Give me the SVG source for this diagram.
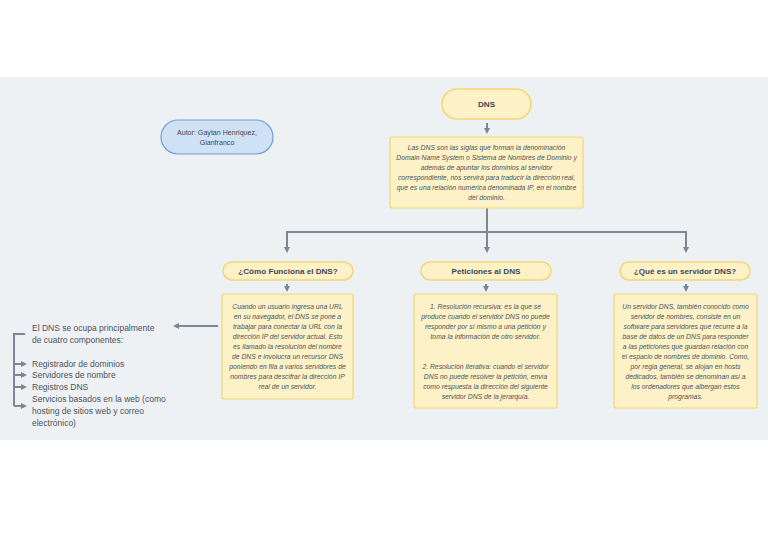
<svg xmlns="http://www.w3.org/2000/svg" width="768" height="543" viewBox="0 0 768 543">
<defs>
<style>
.pill{fill:#fdf1c7;stroke:#f2d675;stroke-width:1.5}
.box{fill:#fdf1c7;stroke:#f2d675;stroke-width:1.2}
.t{font-family:"Liberation Sans","DejaVu Sans",sans-serif;fill:#3f4650}
.h{font-size:8.1px;font-weight:bold;text-anchor:middle}
.b{font-size:6.8px;font-style:italic;text-anchor:middle;fill:#4a525c}
.l{font-size:8.5px;fill:#4a525c}
.c{fill:none;stroke:#7b8794;stroke-width:2}
</style>
<marker id="ah" viewBox="0 0 10 10" refX="5" refY="5" markerWidth="3" markerHeight="3" orient="auto-start-reverse" markerUnits="strokeWidth">
<path d="M0,0 L10,5 L0,10 z" fill="#7b8794"/>
</marker>
</defs>
<rect x="0" y="0" width="768" height="543" fill="#ffffff"/>
<rect x="0" y="77" width="768" height="363" fill="#eef1f4"/>

<g id="connectors">
<path class="c" d="M487,123 V131" marker-end="url(#ah)"/>
<path class="c" d="M487,208 V250" marker-end="url(#ah)"/>
<path class="c" d="M287,250 V232 H686 V250" marker-end="url(#ah)"/>
<path class="c" d="M287,232 V250" marker-end="url(#ah)"/>
<path class="c" d="M287,284 V289" marker-end="url(#ah)"/>
<path class="c" d="M486,284 V289" marker-end="url(#ah)"/>
<path class="c" d="M686,284 V289" marker-end="url(#ah)"/>
<path class="c" d="M218,326 H176" marker-end="url(#ah)"/>
<path class="c" d="M25,334 H14 V406"/>
<path class="c" d="M14,364 H24" marker-end="url(#ah)"/>
<path class="c" d="M14,375 H24" marker-end="url(#ah)"/>
<path class="c" d="M14,387 H24" marker-end="url(#ah)"/>
<path class="c" d="M14,406 H24" marker-end="url(#ah)"/>
</g>

<g id="dns">
<rect class="pill" x="442" y="89" width="89" height="30" rx="15"/>
<text class="t h" x="486.5" y="107">DNS</text>
</g>

<g id="author">
<rect x="161" y="120" width="112" height="34" rx="17" fill="#cfe2f5" stroke="#6b9fd6" stroke-width="1.2"/>
<text class="t" x="217" y="134.5" font-size="7.1" text-anchor="middle">Autor: Gaytan Henriquez,</text>
<text class="t" x="217" y="145" font-size="7.1" text-anchor="middle">Gianfranco</text>
</g>

<g id="descripcion">
<rect class="box" x="390" y="137" width="193" height="71" rx="2"/>
<text class="t b" x="486.5" y="150">Las DNS son las siglas que forman la denominación</text>
<text class="t b" x="486.5" y="160">Domain Name System o Sistema de Nombres de Dominio y</text>
<text class="t b" x="486.5" y="170">además de apuntar los dominios al servidor</text>
<text class="t b" x="486.5" y="180">correspondiente, nos servirá para traducir la dirección real,</text>
<text class="t b" x="486.5" y="190">que es una relación numérica denominada IP, en el nombre</text>
<text class="t b" x="486.5" y="200">del dominio.</text>
</g>

<g id="como">
<rect class="pill" x="223" y="262" width="130" height="18" rx="9"/>
<text class="t h" x="288" y="274">¿Cómo Funciona el DNS?</text>
</g>

<g id="peticiones">
<rect class="pill" x="421" y="262" width="130" height="18" rx="9"/>
<text class="t h" x="486" y="274">Peticiones al DNS</text>
</g>

<g id="que">
<rect class="pill" x="620" y="262" width="130" height="18" rx="9"/>
<text class="t h" x="685" y="274">¿Qué es un servidor DNS?</text>
</g>

<g id="como-texto">
<rect class="box" x="222" y="294" width="131" height="105" rx="2"/>
<text class="t b" x="287.5" y="309">Cuando un usuario ingresa una URL</text>
<text class="t b" x="287.5" y="319">en su navegador, el DNS se pone a</text>
<text class="t b" x="287.5" y="329">trabajar para conectar la URL con la</text>
<text class="t b" x="287.5" y="339">dirección IP del servidor actual. Esto</text>
<text class="t b" x="287.5" y="349">es llamado la resolución del nombre</text>
<text class="t b" x="287.5" y="359">de DNS e involucra un recursor DNS</text>
<text class="t b" x="287.5" y="369">poniendo en fila a varios servidores de</text>
<text class="t b" x="287.5" y="379">nombres para descifrar la dirección IP</text>
<text class="t b" x="287.5" y="389">real de un servidor.</text>
</g>

<g id="peticiones-texto">
<rect class="box" x="414" y="294" width="143" height="114" rx="2"/>
<text class="t b" x="485.5" y="309">1. Resolución recursiva: es la que se</text>
<text class="t b" x="485.5" y="319">produce cuando el servidor DNS no puede</text>
<text class="t b" x="485.5" y="329">responder por sí mismo a una petición y</text>
<text class="t b" x="485.5" y="339">toma la información de otro servidor.</text>
<text class="t b" x="485.5" y="369">2. Resolución iterativa: cuando el servidor</text>
<text class="t b" x="485.5" y="379">DNS no puede resolver la petición, envía</text>
<text class="t b" x="485.5" y="389">como respuesta la dirección del siguiente</text>
<text class="t b" x="485.5" y="399">servidor DNS de la jerarquía.</text>
</g>

<g id="que-texto">
<rect class="box" x="614" y="294" width="143" height="114" rx="2"/>
<text class="t b" x="685.5" y="309">Un servidor DNS, también conocido como</text>
<text class="t b" x="685.5" y="319">servidor de nombres, consiste en un</text>
<text class="t b" x="685.5" y="329">software para servidores que recurre a la</text>
<text class="t b" x="685.5" y="339">base de datos de un DNS para responder</text>
<text class="t b" x="685.5" y="349">a las peticiones que guardan relación con</text>
<text class="t b" x="685.5" y="359">el espacio de nombres de dominio. Como,</text>
<text class="t b" x="685.5" y="369">por regla general, se alojan en hosts</text>
<text class="t b" x="685.5" y="379">dedicados, también se denominan así a</text>
<text class="t b" x="685.5" y="389">los ordenadores que albergan estos</text>
<text class="t b" x="685.5" y="399">programas.</text>
</g>

<g id="componentes">
<text class="t l" x="32" y="331">El DNS se ocupa principalmente</text>
<text class="t l" x="32" y="343">de cuatro componentes:</text>
<text class="t l" x="32" y="367">Registrador de dominios</text>
<text class="t l" x="32" y="378">Servidores de nombre</text>
<text class="t l" x="32" y="390">Registros DNS</text>
<text class="t l" x="32" y="402">Servicios basados en la web (como</text>
<text class="t l" x="32" y="414">hosting de sitios web y correo</text>
<text class="t l" x="32" y="426">electrónico)</text>
</g>
</svg>
